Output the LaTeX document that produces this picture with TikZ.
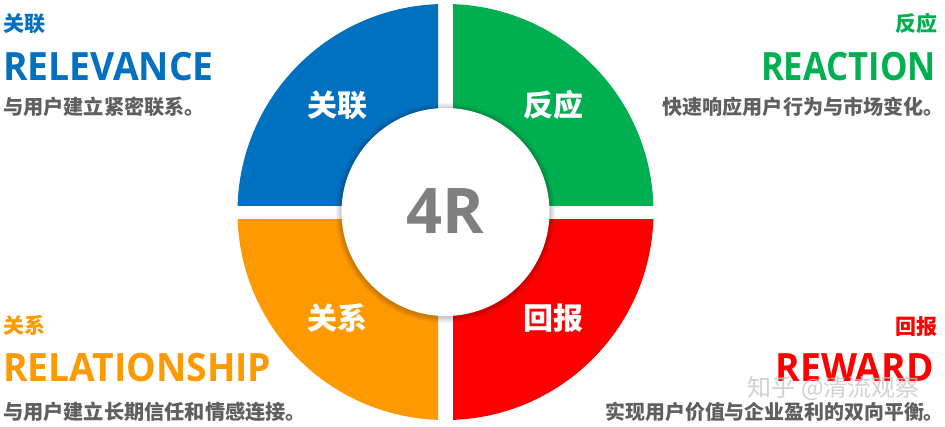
\documentclass[tikz,border=0pt]{standalone}
\usepackage{fontspec}
\usetikzlibrary{calc}
\setmainfont{Open Sans}
\newfontfamily\cjk{Noto Sans CJK SC}
\definecolor{cblue}{HTML}{0070C0}
\definecolor{cgreen}{HTML}{00B050}
\definecolor{corange}{HTML}{FF9900}
\definecolor{cred}{HTML}{FF0000}
\definecolor{cgray}{HTML}{7F7F7F}
\definecolor{cdesc}{HTML}{5F5F5F}
\tikzset{
  lbl/.style={inner sep=0pt, font=\cjk\bfseries\fontsize{21}{21}\selectfont},
  ttl/.style={inner sep=0pt, xscale=0.955, font=\bfseries\fontsize{39}{39}\selectfont},
  dsc/.style={inner sep=0pt, text=cdesc, font=\cjk\bfseries\fontsize{20.2}{20.2}\selectfont},
  qlbl/.style={inner sep=0pt, text=white, font=\cjk\bfseries\fontsize{30}{30}\selectfont, anchor=base},
}
\begin{document}
\begin{tikzpicture}[x=1pt,y=-1pt]
\useasboundingbox (0,0) rectangle (945,426);
\fill[white] (0,0) rectangle (945,426);
\coordinate (c) at (445.5,212);
% quadrants
\begin{scope}\clip (0,0) rectangle (438,205); \fill[cblue] (c) circle (208); \end{scope}
\begin{scope}\clip (453,0) rectangle (945,205); \fill[cgreen] (c) circle (208); \end{scope}
\begin{scope}\clip (0,219) rectangle (438,426); \fill[corange] (c) circle (208); \end{scope}
\begin{scope}\clip (453,219) rectangle (945,426); \fill[cred] (c) circle (208); \end{scope}
% inner circle with soft shadow
\coordinate (cs) at (445.5,213);
\foreach \r in {110,109,108,107,106,105} {\fill[black, opacity=0.035] (cs) circle (\r);}
\fill[white] (c) circle (104);
\node[inner sep=0pt, text=cgray, font=\bfseries\fontsize{63}{63}\selectfont, anchor=base] (center) at (445.5,233) {4R};
% quadrant labels
\node[qlbl] (q1) at (337,116) {关联};
\node[qlbl] (q2) at (553,116) {反应};
\node[qlbl] (q3) at (337,329) {关系};
\node[qlbl] (q4) at (553,329) {回报};
% top-left
\node[lbl, text=cblue, anchor=base west] (t1) at (3,31) {关联};
\node[ttl, text=cblue, anchor=base west] (e1) at (3,80) {RELEVANCE};
\node[dsc, anchor=base west] (d1) at (3,114) {与用户建立紧密联系。};
% top-right
\node[lbl, text=cgreen, anchor=base east] (t2) at (938,31) {反应};
\node[ttl, text=cgreen, anchor=base east, xscale=0.93] (e2) at (936,80) {REACTION};
\node[dsc, anchor=base east, font=\cjk\bfseries\fontsize{20.1}{20.1}\selectfont] (d2) at (944,114) {快速响应用户行为与市场变化。};
% bottom-left
\node[lbl, text=corange, anchor=base west] (t3) at (3,333) {关系};
\node[ttl, text=corange, anchor=base west] (e3) at (3,381) {RELATIONSHIP};
\node[dsc, anchor=base west] (d3) at (3,419) {与用户建立长期信任和情感连接。};
% bottom-right
\node[lbl, text=cred, anchor=base east] (t4) at (938,334) {回报};
\node[ttl, text=cred, anchor=base east] (e4) at (934,381) {REWARD};
\node[dsc, anchor=base east, font=\cjk\bfseries\fontsize{19.9}{19.9}\selectfont] (d4) at (944,419) {实现用户价值与企业盈利的双向平衡。};
% watermark
\node[inner sep=0pt, anchor=base east, text=gray!45, opacity=0.8, font=\cjk\fontsize{24}{24}\selectfont] (wm) at (920,396) {知乎 @清流观察};
\end{tikzpicture}
\end{document}
